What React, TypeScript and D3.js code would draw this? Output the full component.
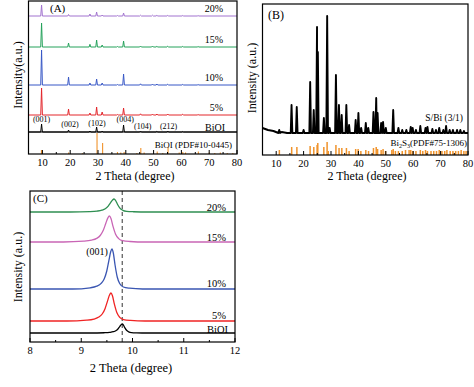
import React from "react";
import * as d3 from "d3";

const W = 474;
const H = 387;
const FONT = "Liberation Serif";

// ---- Panel A: BiOI and doped samples (peak positions shared, heights per sample)
const peakPosA = [9.7, 19.4, 27.1, 29.5, 31.5, 37.0, 39.2, 45.3, 49.6, 51.2, 55.1, 60.5, 66.0];
const samplesA = ["BiOI", "5%", "10%", "15%", "20%"];
const offsetsA = [0, 17, 47, 85, 116];
const colorsA = ["#000000", "#e3262b", "#3757c6", "#25a25b", "#a173cf"];
const heightsA = [
  [8, 2, 1, 5, 1, 0, 7, 1, 0, 0.8, 1, 0.5, 0],
  [27, 6, 2, 8, 3, 0.5, 7, 1.2, 1, 1, 1, 0.8, 0.5],
  [35, 8, 2, 6, 2, 0.5, 11, 1.2, 1, 1, 0.8, 0.6, 0.5],
  [24, 4, 2.7, 7, 2, 0.5, 6, 1, 1, 0.8, 0.8, 0.6, 0.5],
  [11, 1.5, 2, 4, 1, 0.5, 3, 0.8, 0.8, 0.8, 0.6, 0.5, 0.4],
];
const hklLabels = ["(001)", "(002)", "(102)", "(004)", "(104)", "(212)"];
const hklPos = [9.7, 19.9, 29.6, 39.8, 46.1, 55.4];
const hklLift = [9, 4, 5, 9, 2, 2];

// BiOI reference card PDF#10-0445: [2θ, height]
const pdfBiOI = [
  [9.66, 4], [19.4, 1.5], [24.4, 0.8], [29.65, 21], [31.66, 11], [37.0, 2], [38.2, 1.5],
  [39.4, 2], [44.0, 1], [45.4, 6], [46.6, 1.5], [51.3, 2.5], [53.3, 1], [55.2, 7],
  [59.2, 1.5], [60.5, 2], [61.5, 1.5], [66.1, 2.5], [70.0, 1.5], [72.0, 1], [74.0, 1.5],
  [76.5, 1], [78.5, 1],
];

// ---- Panel B: S/Bi (3/1) pattern, peaks [2θ, height above baseline]
const peaksB = [
  [11.1, 3], [15.6, 28], [17.5, 26], [20.0, 3], [22.4, 51], [23.7, 23], [24.9, 106], [25.2, 81],
  [27.4, 15], [28.6, 117], [29.5, 5], [31.8, 58], [32.9, 28], [33.9, 18], [35.6, 28],
  [36.6, 8], [39.0, 13], [40.0, 20], [41.0, 5], [42.7, 10], [43.6, 5], [45.5, 21],
  [46.5, 35], [47.0, 20], [48.3, 10], [49.0, 11], [50.0, 5], [52.7, 23], [54.6, 5],
  [56.0, 3], [57.5, 3], [59.1, 6], [59.8, 5], [61.0, 3], [62.6, 7], [64.5, 5], [65.2, 6],
  [67.0, 4], [68.3, 3], [69.5, 5], [71.0, 3], [72.0, 7], [73.3, 3], [74.5, 3], [76.0, 3],
  [77.2, 3], [78.5, 2],
];
const baseB = 22;
const baselineB = [[5, 27], [7, 25], [9, 24], [12, 23], [14, 22], [80, 22]];

// Bi2S3 card PDF#75-1306 sticks
const pdfBi2S3 = [
  [11.15, 5], [15.65, 8], [17.55, 8], [22.38, 9], [23.72, 8], [24.93, 10], [25.18, 12],
  [27.38, 8], [28.58, 13], [29.0, 4], [31.8, 10], [32.94, 7], [33.95, 7], [35.63, 7],
  [36.6, 4], [39.0, 6], [39.9, 6], [40.9, 4], [42.7, 5], [43.7, 4], [45.5, 7], [46.5, 8],
  [47.0, 6], [48.3, 5], [49.0, 6], [49.9, 4], [52.2, 5], [52.7, 6], [53.5, 4], [54.6, 4],
  [56.0, 4], [57.2, 5], [58.5, 5], [59.1, 5], [59.8, 4], [61.0, 4], [62.6, 5], [63.5, 4],
  [64.5, 5], [65.2, 4], [66.5, 4], [67.5, 4], [68.5, 4], [69.5, 5], [70.5, 4], [71.5, 4],
  [72.3, 5], [73.5, 4], [74.5, 4], [75.5, 4], [76.5, 4], [77.5, 5], [78.5, 4], [79.3, 4],
];

// ---- Panel C: (001) region
const samplesC = ["BiOI", "5%", "10%", "15%", "20%"];
const colorsC = ["#000000", "#f02323", "#3a56b2", "#c965b5", "#2f8f52"];
const centersC = [9.8, 9.58, 9.6, 9.55, 9.64];
const heightsC = [9, 28, 40, 26, 13];
const offsetsC = [9, 21, 53, 100, 130];
const widthsC = [0.7, 0.95, 0.85, 1.0, 0.95];
// peak profile: [Δ2θ, relative intensity]
const profileC = [
  [-0.9, 0], [-0.5, 0.03], [-0.35, 0.07], [-0.25, 0.14], [-0.18, 0.25], [-0.12, 0.45],
  [-0.07, 0.72], [-0.03, 0.93], [0, 1], [0.03, 0.9], [0.07, 0.6], [0.12, 0.3],
  [0.18, 0.13], [0.26, 0.05], [0.4, 0.02], [0.7, 0],
];
const labelPosC = [333, 319, 287, 241, 211];

function spikes(peaks: number[][], base: number, w: number, x0: number, x1: number, extra: number[][] = []) {
  const pts: number[][] = [...extra];
  if (!extra.length) {
    pts.push([x0, base], [x1, base]);
  }
  peaks.forEach(([p, h]) => {
    if (h <= 0) return;
    pts.push([p - w, base], [p, base + h], [p + w, base]);
  });
  return pts.sort((a, b) => a[0] - b[0]);
}

function BottomAxis({ x, y, majors, minors, fmt }: any) {
  return (
    <g>
      {minors.map((t: number) => (
        <line key={"m" + t} x1={x(t)} x2={x(t)} y1={y} y2={y - 2} stroke="#000" />
      ))}
      {majors.map((t: number) => (
        <g key={t}>
          <line x1={x(t)} x2={x(t)} y1={y} y2={y - 4} stroke="#000" />
          <text x={x(t)} y={y + 12} textAnchor="middle" fontSize={10.5}>
            {fmt(t)}
          </text>
        </g>
      ))}
    </g>
  );
}

export default function App() {
  // Panel A
  const xA = d3.scaleLinear().domain([5, 80]).range([28.5, 237]);
  const yA = d3.scaleLinear().domain([0, 131]).range([132, 1]);
  const yA2 = d3.scaleLinear().domain([0, 22]).range([154, 132]);
  const lineA = d3.line<number[]>().x((d) => xA(d[0])).y((d) => yA(d[1]));

  // Panel B
  const xB = d3.scaleLinear().domain([5, 80]).range([262.5, 468]);
  const yB = d3.scaleLinear().domain([0, 151]).range([155, 4]);
  const lineB = d3.line<number[]>().x((d) => xB(d[0])).y((d) => yB(d[1]));
  const ptsB = spikes(peaksB, baseB, 0.3, 5, 80, baselineB);

  // Panel C
  const xC = d3.scaleLinear().domain([8, 12]).range([30, 235]);
  const yC = d3.scaleLinear().domain([0, 151]).range([342, 191]);
  const lineC = d3
    .line<number[]>()
    .x((d) => xC(d[0]))
    .y((d) => yC(d[1]))
    .curve(d3.curveMonotoneX);

  const majorsAB = d3.range(10, 81, 10);
  const minorsAB = d3.range(5, 80, 10);

  return (
    <svg
      width={W}
      height={H}
      style={{ position: "absolute", left: 0, top: 0, background: "#fff" }}
      fontFamily={FONT}
    >
      {/* ---------- Panel A ---------- */}
      {samplesA.map((s, i) => {
        const pts = spikes(
          peakPosA.map((p, j) => [p, heightsA[i][j]]),
          offsetsA[i],
          0.3,
          5,
          80
        );
        return (
          <path key={s} d={lineA(pts) || ""} fill="none" stroke={colorsA[i]} strokeWidth={1} />
        );
      })}
      {pdfBiOI.map(([p, h], i) => (
        <line
          key={i}
          x1={xA(p)}
          x2={xA(p)}
          y1={yA2(0)}
          y2={yA2(h)}
          stroke="#f0932b"
          strokeWidth={1.1}
        />
      ))}
      <line x1={xA(5)} x2={xA(80)} y1={yA2(22)} y2={yA2(22)} stroke="#000" strokeWidth={1} />
      <rect x={28.5} y={1} width={237 - 28.5} height={153} fill="none" stroke="#000" strokeWidth={1.2} />
      <BottomAxis x={xA} y={154} majors={majorsAB} minors={minorsAB} fmt={(t: number) => t} />
      {hklLabels.map((l, i) => (
        <text
          key={l}
          x={xA(hklPos[i])}
          y={yA(hklLift[i]) - 1}
          textAnchor="middle"
          fontSize={8}
        >
          {l}
        </text>
      ))}
      {samplesA.slice(1).map((s, i) => (
        <text key={s} x={223} y={yA(offsetsA[i + 1]) - 4} textAnchor="end" fontSize={10}>
          {s}
        </text>
      ))}
      <text x={225} y={130.5} textAnchor="end" fontSize={10}>
        BiOI
      </text>
      <text x={232} y={148} textAnchor="end" fontSize={9}>
        BiOI (PDF#10-0445)
      </text>
      <text x={50} y={12} fontSize={11}>
        (A)
      </text>
      <text x={135} y={180} textAnchor="middle" fontSize={12}>
        2 Theta (degree)
      </text>
      <text transform="translate(22,75) rotate(-90)" textAnchor="middle" fontSize={12}>
        Intensity(a.u.)
      </text>

      {/* ---------- Panel B ---------- */}
      {pdfBi2S3.map(([p, h], i) => (
        <line
          key={i}
          x1={xB(p)}
          x2={xB(p)}
          y1={yB(0)}
          y2={yB(h)}
          stroke="#f0932b"
          strokeWidth={1.5}
        />
      ))}
      <path d={lineB(ptsB) || ""} fill="none" stroke="#000" strokeWidth={1.9} strokeLinejoin="round" />
      <rect x={262.5} y={4} width={468 - 262.5} height={151} fill="none" stroke="#000" strokeWidth={1.2} />
      <BottomAxis x={xB} y={155} majors={majorsAB} minors={minorsAB} fmt={(t: number) => t} />
      <text x={268} y={19} fontSize={12}>
        (B)
      </text>
      <text x={463} y={121} textAnchor="end" fontSize={9.5}>
        S/Bi (3/1)
      </text>
      <text x={467} y={146} textAnchor="end" fontSize={9}>
        Bi<tspan fontSize={6} dy={2}>2</tspan>
        <tspan dy={-2}>S</tspan>
        <tspan fontSize={6} dy={2}>3</tspan>
        <tspan dy={-2}>(PDF#75-1306)</tspan>
      </text>
      <text x={367} y={180} textAnchor="middle" fontSize={12}>
        2 Theta (degree)
      </text>
      <text transform="translate(256,78) rotate(-90)" textAnchor="middle" fontSize={12}>
        Intensity (a.u.)
      </text>

      {/* ---------- Panel C ---------- */}
      <line
        x1={xC(9.8)}
        x2={xC(9.8)}
        y1={191}
        y2={342}
        stroke="#555"
        strokeWidth={1.2}
        strokeDasharray="4,3"
      />
      {samplesC.map((s, i) => {
        const pts: number[][] = [[8, 0]];
        profileC.forEach(([dx, r]) => pts.push([centersC[i] + dx * widthsC[i], r * heightsC[i]]));
        pts.push([12, 0]);
        const shifted = pts.map(([a, b]) => [a, b + offsetsC[i]]);
        return (
          <path key={s} d={lineC(shifted) || ""} fill="none" stroke={colorsC[i]} strokeWidth={1.3} />
        );
      })}
      <rect x={30} y={191} width={205} height={151} fill="none" stroke="#000" strokeWidth={1.2} />
      <BottomAxis
        x={xC}
        y={342}
        majors={d3.range(8, 12.01, 1)}
        minors={d3.range(8.5, 12, 1)}
        fmt={(t: number) => t}
      />
      {samplesC.map((s, i) => (
        <text key={s} x={i === 0 ? 228 : 226} y={labelPosC[i]} textAnchor="end" fontSize={10.5}>
          {s}
        </text>
      ))}
      <text x={97} y={255} textAnchor="middle" fontSize={10}>
        (001)
      </text>
      <text x={33} y={202} fontSize={11}>
        (C)
      </text>
      <text x={131} y={372} textAnchor="middle" fontSize={12.5}>
        2 Theta (degree)
      </text>
      <text transform="translate(22,267) rotate(-90)" textAnchor="middle" fontSize={12}>
        Intensity (a.u.)
      </text>
    </svg>
  );
}
